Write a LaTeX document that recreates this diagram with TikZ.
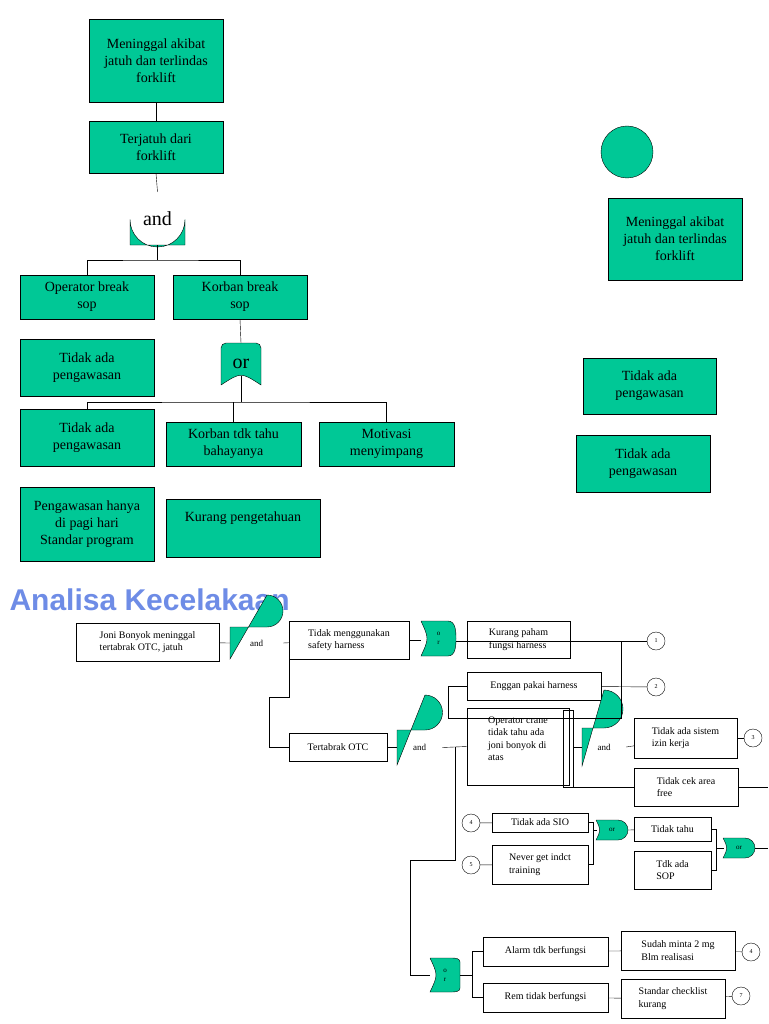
\documentclass[tikz,border=0pt]{standalone}
\usepackage{fontspec}
\setmainfont{Liberation Serif}
\newfontfamily\titlefont{Liberation Sans}
\usetikzlibrary{positioning}
\definecolor{gatecol}{RGB}{0,200,150}
\definecolor{titlecol}{RGB}{110,140,230}
\tikzset{
	gbox/.style={draw,fill=gatecol,align=center,inner sep=1pt,font=\fontsize{14}{17}\selectfont},
	lbox/.style={draw,fill=white,align=left,inner sep=1pt,font=\fontsize{10}{12.5}\selectfont},
	gate/.style={draw=none,inner sep=0pt,align=center},
	gfill/.style={draw,fill=gatecol},
	num/.style={draw,circle,fill=white,minimum size=18pt,inner sep=0pt,font=\fontsize{6}{7}\selectfont},
}
\begin{document}
\begin{tikzpicture}[x=1pt,y=-1pt]
	\useasboundingbox (0,0) rectangle (768,1024);

	% upper tree
	\node[gbox,minimum width=134,minimum height=83] (top) at (156,60.5) {Meninggal akibat\\jatuh dan terlindas\\forklift};
	\node[gbox,minimum width=134,minimum height=52] (fall) at (156,147) {Terjatuh dari\\forklift};
	\filldraw[gfill] (130,245) -- (130,219.5) arc(180:0:27.5) -- (185,245) -- cycle;
	\node[gate,minimum width=55,minimum height=53,font=\fontsize{20}{22}\selectfont] (and1) at (157.5,218.5) {and};
	\node[gbox,minimum width=134,minimum height=44] (opr) at (87,297) {Operator break\\sop};
	\node[gbox,minimum width=134,minimum height=44] (korban) at (240,297) {Korban break\\sop};
	\filldraw[gfill] (221,385) -- (221,348) to[out=90,in=180] (226,343) -- (256,343) to[out=0,in=90] (261,348) -- (261,385) .. controls (241,372) .. (221,385);
	\node[gate,minimum width=40,minimum height=42,font=\fontsize{20}{22}\selectfont] (or1) at (241,364) {or};
	\node[gbox,minimum width=134,minimum height=57] (awas1) at (87,367.5) {Tidak ada\\pengawasan};
	\node[gbox,minimum width=134,minimum height=57] (awas2) at (87,437.5) {Tidak ada\\pengawasan};
	\node[gbox,minimum width=135,minimum height=44] (tahu) at (233.5,444) {Korban tdk tahu\\bahayanya};
	\node[gbox,minimum width=135,minimum height=44] (motif) at (386.5,444) {Motivasi\\menyimpang};
	\node[gbox,minimum width=134,minimum height=74] (pagi) at (87,524) {Pengawasan hanya\\di pagi hari\\Standar program};
	\node[gbox,minimum width=154,minimum height=58,text depth=22pt] (kurang) at (243,528) {Kurang pengetahuan};

	\coordinate (j1) at (157.5,260);
	\coordinate (j2) at (235,402);
	\draw (top) -- (fall);
	\draw (fall.south) -- (157.5,192);
	\draw (157.5,245) -- (j1);
	\draw (opr.north) |- (j1) -| (korban.north);
	\draw (korban.south) -- (241,343);
	\draw (241,376) -- (241,402);
	\draw (awas2.north) |- (j2) -| (motif.north);
	\draw (tahu.north) -- (tahu.north |- j2);

	% legend
	\node[draw,circle,fill=gatecol,minimum size=52pt] (endev) at (627,152) {};
	\node[gbox,minimum width=134,minimum height=82] (top2) at (675,239) {Meninggal akibat\\jatuh dan terlindas\\forklift};
	\node[gbox,minimum width=133,minimum height=56] (awas3) at (649.5,386) {Tidak ada\\pengawasan};
	\node[gbox,minimum width=134,minimum height=57] (awas4) at (643,463.5) {Tidak ada\\pengawasan};

	% lower tree
	\node[anchor=west,text=titlecol,font=\titlefont\bfseries\fontsize{30}{32}\selectfont] (judul) at (6,600) {Analisa Kecelakaan};

	\node[lbox,minimum width=143,minimum height=38] (joni) at (147.5,642) {Joni Bonyok meninggal\\tertabrak OTC, jatuh};
	\filldraw[gfill] (230,627) -- (267,627) arc(90:-90:16) -- (230,659) -- cycle;
	\node[gate,minimum width=53,minimum height=32,font=\fontsize{9}{10}\selectfont] (and2) at (256.5,643) {and};
	\node[lbox,minimum width=120,minimum height=38] (harness) at (349,640) {Tidak menggunakan\\safety harness};
	\filldraw[gfill] (421,621) -- (448,621) to[out=0,in=90] (456,638.5) to[out=-90,in=0] (448,656) -- (421,656) .. controls (429,638.5) .. (421,621);
	\node[gate,minimum width=35,minimum height=35,font=\fontsize{7}{9}\selectfont] (or2) at (438.5,638.5) {o\\r};
	\node[lbox,minimum width=103,minimum height=37] (paham) at (518.5,639.5) {Kurang paham\\fungsi harness};
	\node[num] (n1) at (656,641) {1};
	\node[lbox,minimum width=134,minimum height=28] (enggan) at (534,686) {Enggan pakai harness};
	\node[num] (n2) at (656,687) {2};
	\node[lbox,minimum width=102,minimum height=77,text depth=16pt] (crane) at (518,746.5) {Operator crane\\tidak tahu ada\\joni bonyok di\\atas};
	\draw (563,710) rectangle (573,787);
	\filldraw[gfill] (582,728) -- (604,728) arc(90:-90:19) -- (582,766) -- cycle;
	\node[gate,minimum width=44,minimum height=38,font=\fontsize{9}{10}\selectfont] (and3) at (604,747) {and};
	\node[lbox,minimum width=103,minimum height=40] (izin) at (685.5,738) {Tidak ada sistem\\izin kerja};
	\node[num] (n3) at (753,738) {3};
	\node[lbox,minimum width=104,minimum height=38] (area) at (686,787) {Tidak cek area\\free};
	\node[lbox,minimum width=98,minimum height=28] (otc) at (338,747) {Tertabrak OTC};
	\filldraw[gfill] (397,730) -- (425,730) arc(90:-90:17.5) -- (397,765) -- cycle;
	\node[gate,minimum width=45,minimum height=35,font=\fontsize{9}{10}\selectfont] (and4) at (419.5,747.5) {and};

	\node[num] (n4) at (471,823) {4};
	\node[lbox,minimum width=96,minimum height=19] (sio) at (540,822.5) {Tidak ada SIO};
	\node[num] (n5) at (471,865) {5};
	\node[lbox,minimum width=96,minimum height=39] (indct) at (540,864.5) {Never get indct\\training};
	\filldraw[gfill] (596,820) -- (618,820) to[out=0,in=90] (628,830) to[out=-90,in=0] (618,840) -- (596,840) .. controls (601,830) .. (596,820);
	\node[gate,minimum width=32,minimum height=20,font=\fontsize{7}{8}\selectfont] (or3) at (612,830) {or};
	\node[lbox,minimum width=77,minimum height=24] (ttahu) at (672.5,829) {Tidak tahu};
	\node[lbox,minimum width=77,minimum height=38] (sop) at (672.5,870) {Tdk ada\\SOP};
	\filldraw[gfill] (723,838) -- (745,838) to[out=0,in=90] (755,848) to[out=-90,in=0] (745,858) -- (723,858) .. controls (728,848) .. (723,838);
	\node[gate,minimum width=32,minimum height=20,font=\fontsize{7}{8}\selectfont] (or4) at (739,848) {or};

	\filldraw[gfill] (430,958) -- (452,958) to[out=0,in=90] (460,962) -- (460,988) to[out=-90,in=0] (452,992) -- (430,992) .. controls (438,975) .. (430,958);
	\node[gate,minimum width=30,minimum height=34,font=\fontsize{7}{9}\selectfont] (or5) at (445,975) {o\\r};
	\node[lbox,minimum width=125,minimum height=29] (alarm) at (545.5,951.5) {Alarm tdk berfungsi};
	\node[lbox,minimum width=125,minimum height=29] (rem) at (545.5,997.5) {Rem tidak berfungsi};
	\node[lbox,minimum width=114,minimum height=39] (minta) at (678,950.5) {Sudah minta 2 mg\\Blm realisasi};
	\node[num] (n6) at (751,952) {4};
	\node[lbox,minimum width=104,minimum height=39] (cek) at (673,998.5) {Standar checklist\\kurang};
	\node[num] (n7) at (741,996) {7};

	\coordinate (k1) at (448,686);
	\coordinate (k2) at (621,718);
	\coordinate (k3) at (269,697);
	\coordinate (k4) at (455,747);
	\coordinate (k5) at (410,860);
	\draw (joni) -- (230,643);
	\draw (and2.east) -- (harness);
	\draw (harness) -- (421,640);
	\draw (456,641) -- (n1);
	\draw (enggan) -- (n2);
	\draw (enggan.west) -- (k1) |- (k2) -- (621,641);
	\draw (289,659) |- (k3) |- (otc.west);
	\draw (otc) -- (397,747);
	\draw (and4.east) -- (crane.west);
	\draw (k4) |- (k5) |- (430,975);
	\draw (573,747) -- (582,747);
	\draw (and3.east) -- (izin);
	\draw (izin) -- (n3);
	\draw (563,787) -- (area.west);
	\draw (area.east) -- (768,787);
	\draw (n4) -- (sio);
	\draw (n5) -- (indct);
	\draw (sio.east) -- ++(5,0) |- (indct.east);
	\draw (593,830) -- (597,830);
	\draw (or3.east) -- (ttahu);
	\draw (ttahu.east) -- ++(5,0) |- (sop.east);
	\draw (716,848) -- (724,848);
	\draw (or4.east) -- (768,848);
	\draw (or5.east) -- (472,975);
	\draw (alarm.west) -- ++(-11,0) |- (rem.west);
	\draw (alarm) -- (minta);
	\draw (rem) -- (cek);
	\draw (minta) -- (n6);
	\draw (cek) -- (n7);
\end{tikzpicture}
\end{document}
